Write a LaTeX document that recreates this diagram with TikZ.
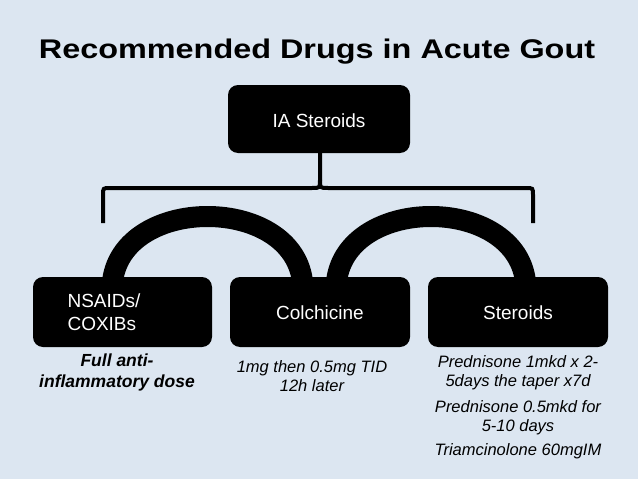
\documentclass[tikz,border=0pt]{standalone}
\usepackage{fontspec}
\setmainfont{Liberation Sans}
\definecolor{bg}{HTML}{DCE6F1}
\begin{document}
\begin{tikzpicture}[x=1pt,y=-1pt,
  blk/.style={fill=black,rounded corners=10pt,text=white},
  btxt/.style={text=white,font=\fontsize{19}{23}\selectfont},
  note/.style={font=\fontsize{16.5}{19}\selectfont\itshape,align=center}]
\fill[bg] (0,0) rectangle (638,479);
\useasboundingbox (0,0) rectangle (638,479);
\node[font=\fontsize{27}{30}\selectfont\bfseries,xscale=1.2] (title) at (317,52) {Recommended Drugs in Acute Gout};
\draw[line width=21pt] (112,290) .. controls (112,192) and (303,192) .. (303,290);
\draw[line width=21pt] (336,290) .. controls (336,192) and (526,192) .. (526,290);
\fill[blk] (228,85) rectangle (410,153);
\node[btxt] (ia) at (319,121) {IA Steroids};
\coordinate (st) at (320,153);
\draw[line width=4pt] (st) -- (320,180) .. controls (320,188) .. (312,188) -- (110,188) .. controls (103,188) .. (103,195) -- (103,223);
\draw[line width=4pt] (320,180) .. controls (320,188) .. (328,188) -- (526,188) .. controls (533,188) .. (533,195) -- (533,223);
\fill[blk] (33,277) rectangle (212,347);
\fill[blk] (230,277) rectangle (410,347);
\fill[blk] (428,277) rectangle (608,347);
\node[btxt,align=left,anchor=west] (ns) at (64,312) {NSAIDs/\\COXIBs};
\node[btxt] (co) at (320,313) {Colchicine};
\node[btxt] (sr) at (518,313) {Steroids};
\node[note,font=\fontsize{17.5}{21}\selectfont\bfseries\itshape] (n1) at (117,372) {Full anti-\\inflammatory dose};
\node[note] (n2) at (312,376) {1mg then 0.5mg TID\\12h later};
\node[note] (n3) at (518,373) {Prednisone 1mkd x 2-\\5days the taper x7d};
\node[note] (n4) at (518,418) {Prednisone 0.5mkd for\\5-10 days};
\node[note] (n5) at (518,451) {Triamcinolone 60mgIM};
\end{tikzpicture}
\end{document}
